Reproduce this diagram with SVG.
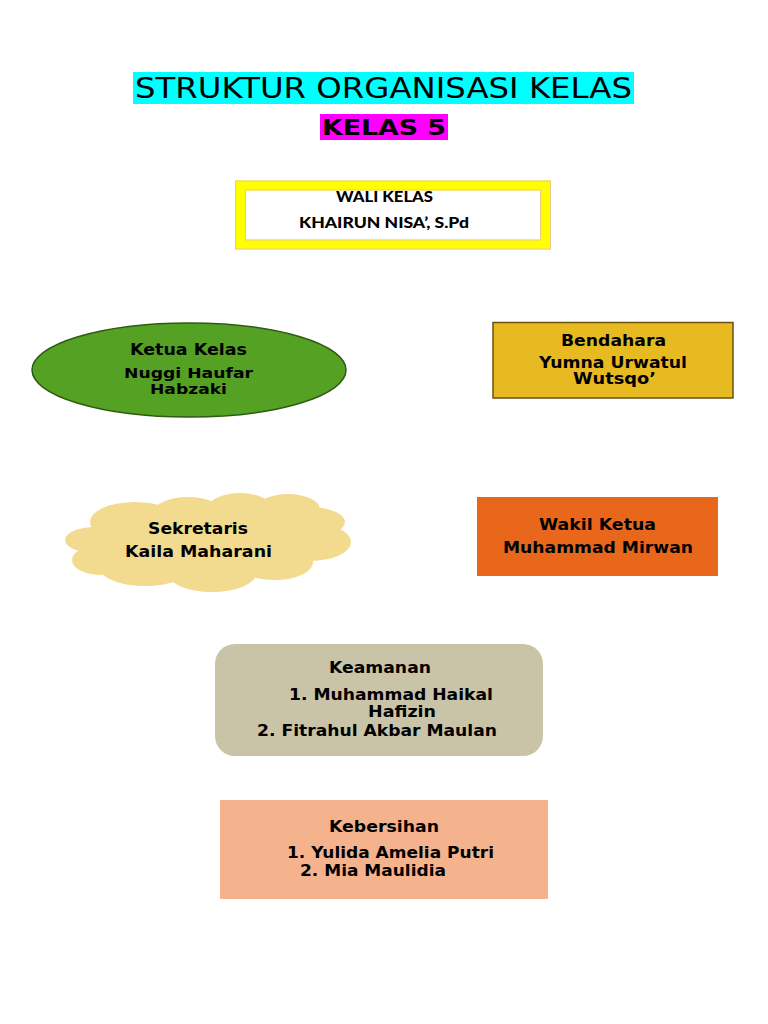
<svg xmlns="http://www.w3.org/2000/svg" width="768" height="1024" viewBox="0 0 768 1024">
<style>
.t{font-family:"DejaVu Sans",Verdana,sans-serif;font-weight:bold;font-size:15px;fill:#000;text-anchor:middle}
.w{font-family:Lato,"Open Sans",sans-serif;font-weight:900;font-size:14.5px;fill:#000;text-anchor:middle}
</style>
<rect width="768" height="1024" fill="#fff"/>
<g id="title">
<rect x="133" y="72" width="501" height="32" fill="#00ffff"/>
<text x="383.5" y="98" textLength="497" lengthAdjust="spacingAndGlyphs" style="font-family:'DejaVu Sans',Verdana,sans-serif;font-size:28px;text-anchor:middle">STRUKTUR ORGANISASI KELAS</text>
</g>
<g id="subtitle">
<rect x="320" y="114" width="128" height="26" fill="#ff00ff"/>
<text x="384" y="135" textLength="124" lengthAdjust="spacingAndGlyphs" class="t" style="font-size:22px">KELAS 5</text>
</g>
<g id="wali-kelas">
<rect x="240" y="185.5" width="306" height="59" fill="#fff" stroke="#ffff00" stroke-width="10"/>
<rect x="235.5" y="181" width="315" height="68" fill="none" stroke="#f0c78a" stroke-width="1"/>
<rect x="245.5" y="190" width="295" height="50" fill="none" stroke="#f0c78a" stroke-width="1"/>
<text x="384.5" y="202" textLength="97" lengthAdjust="spacingAndGlyphs" class="w">WALI KELAS</text>
<text x="384" y="228" textLength="170" lengthAdjust="spacingAndGlyphs" class="w">KHAIRUN NISA’, S.Pd</text>
</g>
<g id="ketua-kelas">
<ellipse cx="189" cy="370" rx="157" ry="47" fill="#55a124" stroke="#2e5a12" stroke-width="1.5"/>
<text x="188.5" y="355" textLength="117" lengthAdjust="spacingAndGlyphs" class="t">Ketua Kelas</text>
<text x="188.5" y="377.5" textLength="129" lengthAdjust="spacingAndGlyphs" class="t" style="font-size:14.5px">Nuggi Haufar</text>
<text x="188.5" y="394" textLength="77" lengthAdjust="spacingAndGlyphs" class="t" style="font-size:14.5px">Habzaki</text>
</g>
<g id="bendahara">
<rect x="493" y="322.5" width="240" height="75.5" fill="#e7ba22" stroke="#6b5210" stroke-width="1.5"/>
<text x="613.5" y="346" textLength="105" lengthAdjust="spacingAndGlyphs" class="t">Bendahara</text>
<text x="613" y="368" textLength="148" lengthAdjust="spacingAndGlyphs" class="t">Yumna Urwatul</text>
<text x="614.5" y="384" textLength="83" lengthAdjust="spacingAndGlyphs" class="t">Wutsqo’</text>
</g>
<g id="sekretaris">
<g fill="#f2db8e">
<ellipse cx="210" cy="542" rx="120" ry="36"/>
<ellipse cx="135" cy="522" rx="45" ry="20"/>
<ellipse cx="188" cy="513" rx="35" ry="16"/>
<ellipse cx="240" cy="508" rx="32" ry="15"/>
<ellipse cx="288" cy="509" rx="32" ry="15"/>
<ellipse cx="310" cy="522" rx="35" ry="15"/>
<ellipse cx="310" cy="542" rx="41" ry="19"/>
<ellipse cx="275" cy="562" rx="38" ry="18"/>
<ellipse cx="212" cy="572" rx="45" ry="20"/>
<ellipse cx="145" cy="568" rx="45" ry="18"/>
<ellipse cx="100" cy="560" rx="28" ry="15"/>
<ellipse cx="95" cy="540" rx="30" ry="13"/>
</g>
<text x="198" y="534" textLength="100" lengthAdjust="spacingAndGlyphs" class="t">Sekretaris</text>
<text x="198.5" y="557" textLength="147" lengthAdjust="spacingAndGlyphs" class="t">Kaila Maharani</text>
</g>
<g id="wakil-ketua">
<rect x="477" y="497" width="241" height="79" fill="#e8671a"/>
<text x="597.5" y="530" textLength="117" lengthAdjust="spacingAndGlyphs" class="t">Wakil Ketua</text>
<text x="598" y="553" textLength="190" lengthAdjust="spacingAndGlyphs" class="t">Muhammad Mirwan</text>
</g>
<g id="keamanan">
<rect x="215" y="644" width="328" height="112" rx="20" fill="#c9c3a8"/>
<text x="380" y="673" textLength="102" lengthAdjust="spacingAndGlyphs" class="t">Keamanan</text>
<text x="391" y="700" textLength="204" lengthAdjust="spacingAndGlyphs" class="t">1. Muhammad Haikal</text>
<text x="402" y="717" textLength="68" lengthAdjust="spacingAndGlyphs" class="t">Hafizin</text>
<text x="377" y="736" textLength="240" lengthAdjust="spacingAndGlyphs" class="t">2. Fitrahul Akbar Maulan</text>
</g>
<g id="kebersihan">
<rect x="220" y="800" width="328" height="99" fill="#f4b38c"/>
<text x="384" y="832" textLength="110" lengthAdjust="spacingAndGlyphs" class="t">Kebersihan</text>
<text x="390.5" y="858" textLength="207" lengthAdjust="spacingAndGlyphs" class="t">1. Yulida Amelia Putri</text>
<text x="373" y="876" textLength="146" lengthAdjust="spacingAndGlyphs" class="t">2. Mia Maulidia</text>
</g>
<g id="connectors"/>
</svg>
